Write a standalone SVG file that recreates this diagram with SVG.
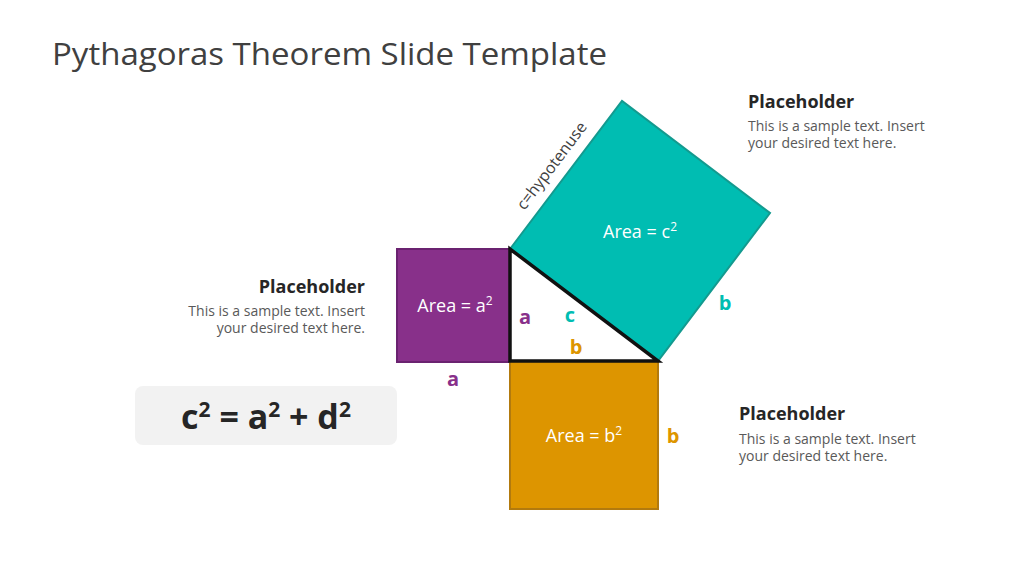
<svg xmlns="http://www.w3.org/2000/svg" width="1024" height="576" viewBox="0 0 1024 576">
<style>
text{font-family:"Open Sans","Noto Sans","Liberation Sans",sans-serif;}
.title{font-size:31.5px;fill:#404040;}
.ph{font-size:18px;font-weight:bold;fill:#262626;}
.body{font-size:14px;fill:#595959;}
.area{font-size:18px;fill:#ffffff;text-anchor:middle;}
.lbl{font-size:20px;font-weight:bold;text-anchor:middle;}
.sup{font-size:12px;}
</style>
<rect width="1024" height="576" fill="#ffffff"/>
<text class="title" x="52" y="65" textLength="555" lengthAdjust="spacingAndGlyphs">Pythagoras Theorem Slide Template</text>

<g id="square-c">
<polygon points="510,249 622,101 770,213 658,361" fill="#00BDB2" stroke="#139A8F" stroke-width="2"/>
<text class="area" x="640" y="238">Area = c<tspan class="sup" dy="-7">2</tspan></text>
</g>
<g id="square-a">
<rect x="397" y="249" width="113" height="113" fill="#88308A" stroke="#6A2270" stroke-width="2"/>
<text class="area" x="455" y="312">Area = a<tspan class="sup" dy="-7">2</tspan></text>
</g>
<g id="square-b">
<rect x="510" y="361" width="148" height="148" fill="#DD9500" stroke="#B27A0E" stroke-width="2"/>
<text class="area" x="584" y="442">Area = b<tspan class="sup" dy="-7">2</tspan></text>
</g>
<g id="triangle">
<polygon points="510,249 510,361 658,361" fill="#ffffff" stroke="#111111" stroke-width="3.5" stroke-linejoin="miter"/>
</g>
<g id="connectors"></g>

<g id="labels">
<text class="lbl" x="525" y="324" fill="#88308A">a</text>
<text class="lbl" x="570" y="322" fill="#00BDB2">c</text>
<text class="lbl" x="576" y="354" fill="#DD9500">b</text>
<text class="lbl" x="453" y="386" fill="#88308A">a</text>
<text class="lbl" x="725" y="310" fill="#00BDB2">b</text>
<text class="lbl" x="673" y="443" fill="#DD9500">b</text>
<text x="0" y="0" font-size="16" fill="#404040" text-anchor="middle" transform="translate(556,169) rotate(-53)">c=hypotenuse</text>
</g>

<g id="text-top">
<text class="ph" x="748" y="108">Placeholder</text>
<text class="body"><tspan x="748" y="131">This is a sample text. Insert</tspan><tspan x="748" y="147.5">your desired text here.</tspan></text>
</g>
<g id="text-left" text-anchor="end">
<text class="ph" x="365" y="293">Placeholder</text>
<text class="body"><tspan x="365" y="316">This is a sample text. Insert</tspan><tspan x="365" y="332.5">your desired text here.</tspan></text>
</g>
<g id="text-bottom">
<text class="ph" x="739" y="420">Placeholder</text>
<text class="body"><tspan x="739" y="444">This is a sample text. Insert</tspan><tspan x="739" y="460.5">your desired text here.</tspan></text>
</g>

<g id="formula">
<rect x="135" y="386" width="262" height="59" rx="8" fill="#F2F2F2"/>
<text x="266" y="429" font-size="34" font-weight="bold" fill="#262626" text-anchor="middle">c<tspan font-size="21" dy="-12">2</tspan><tspan dy="12"> = a</tspan><tspan font-size="21" dy="-12">2</tspan><tspan dy="12"> + d</tspan><tspan font-size="21" dy="-12">2</tspan></text>
</g>
</svg>
